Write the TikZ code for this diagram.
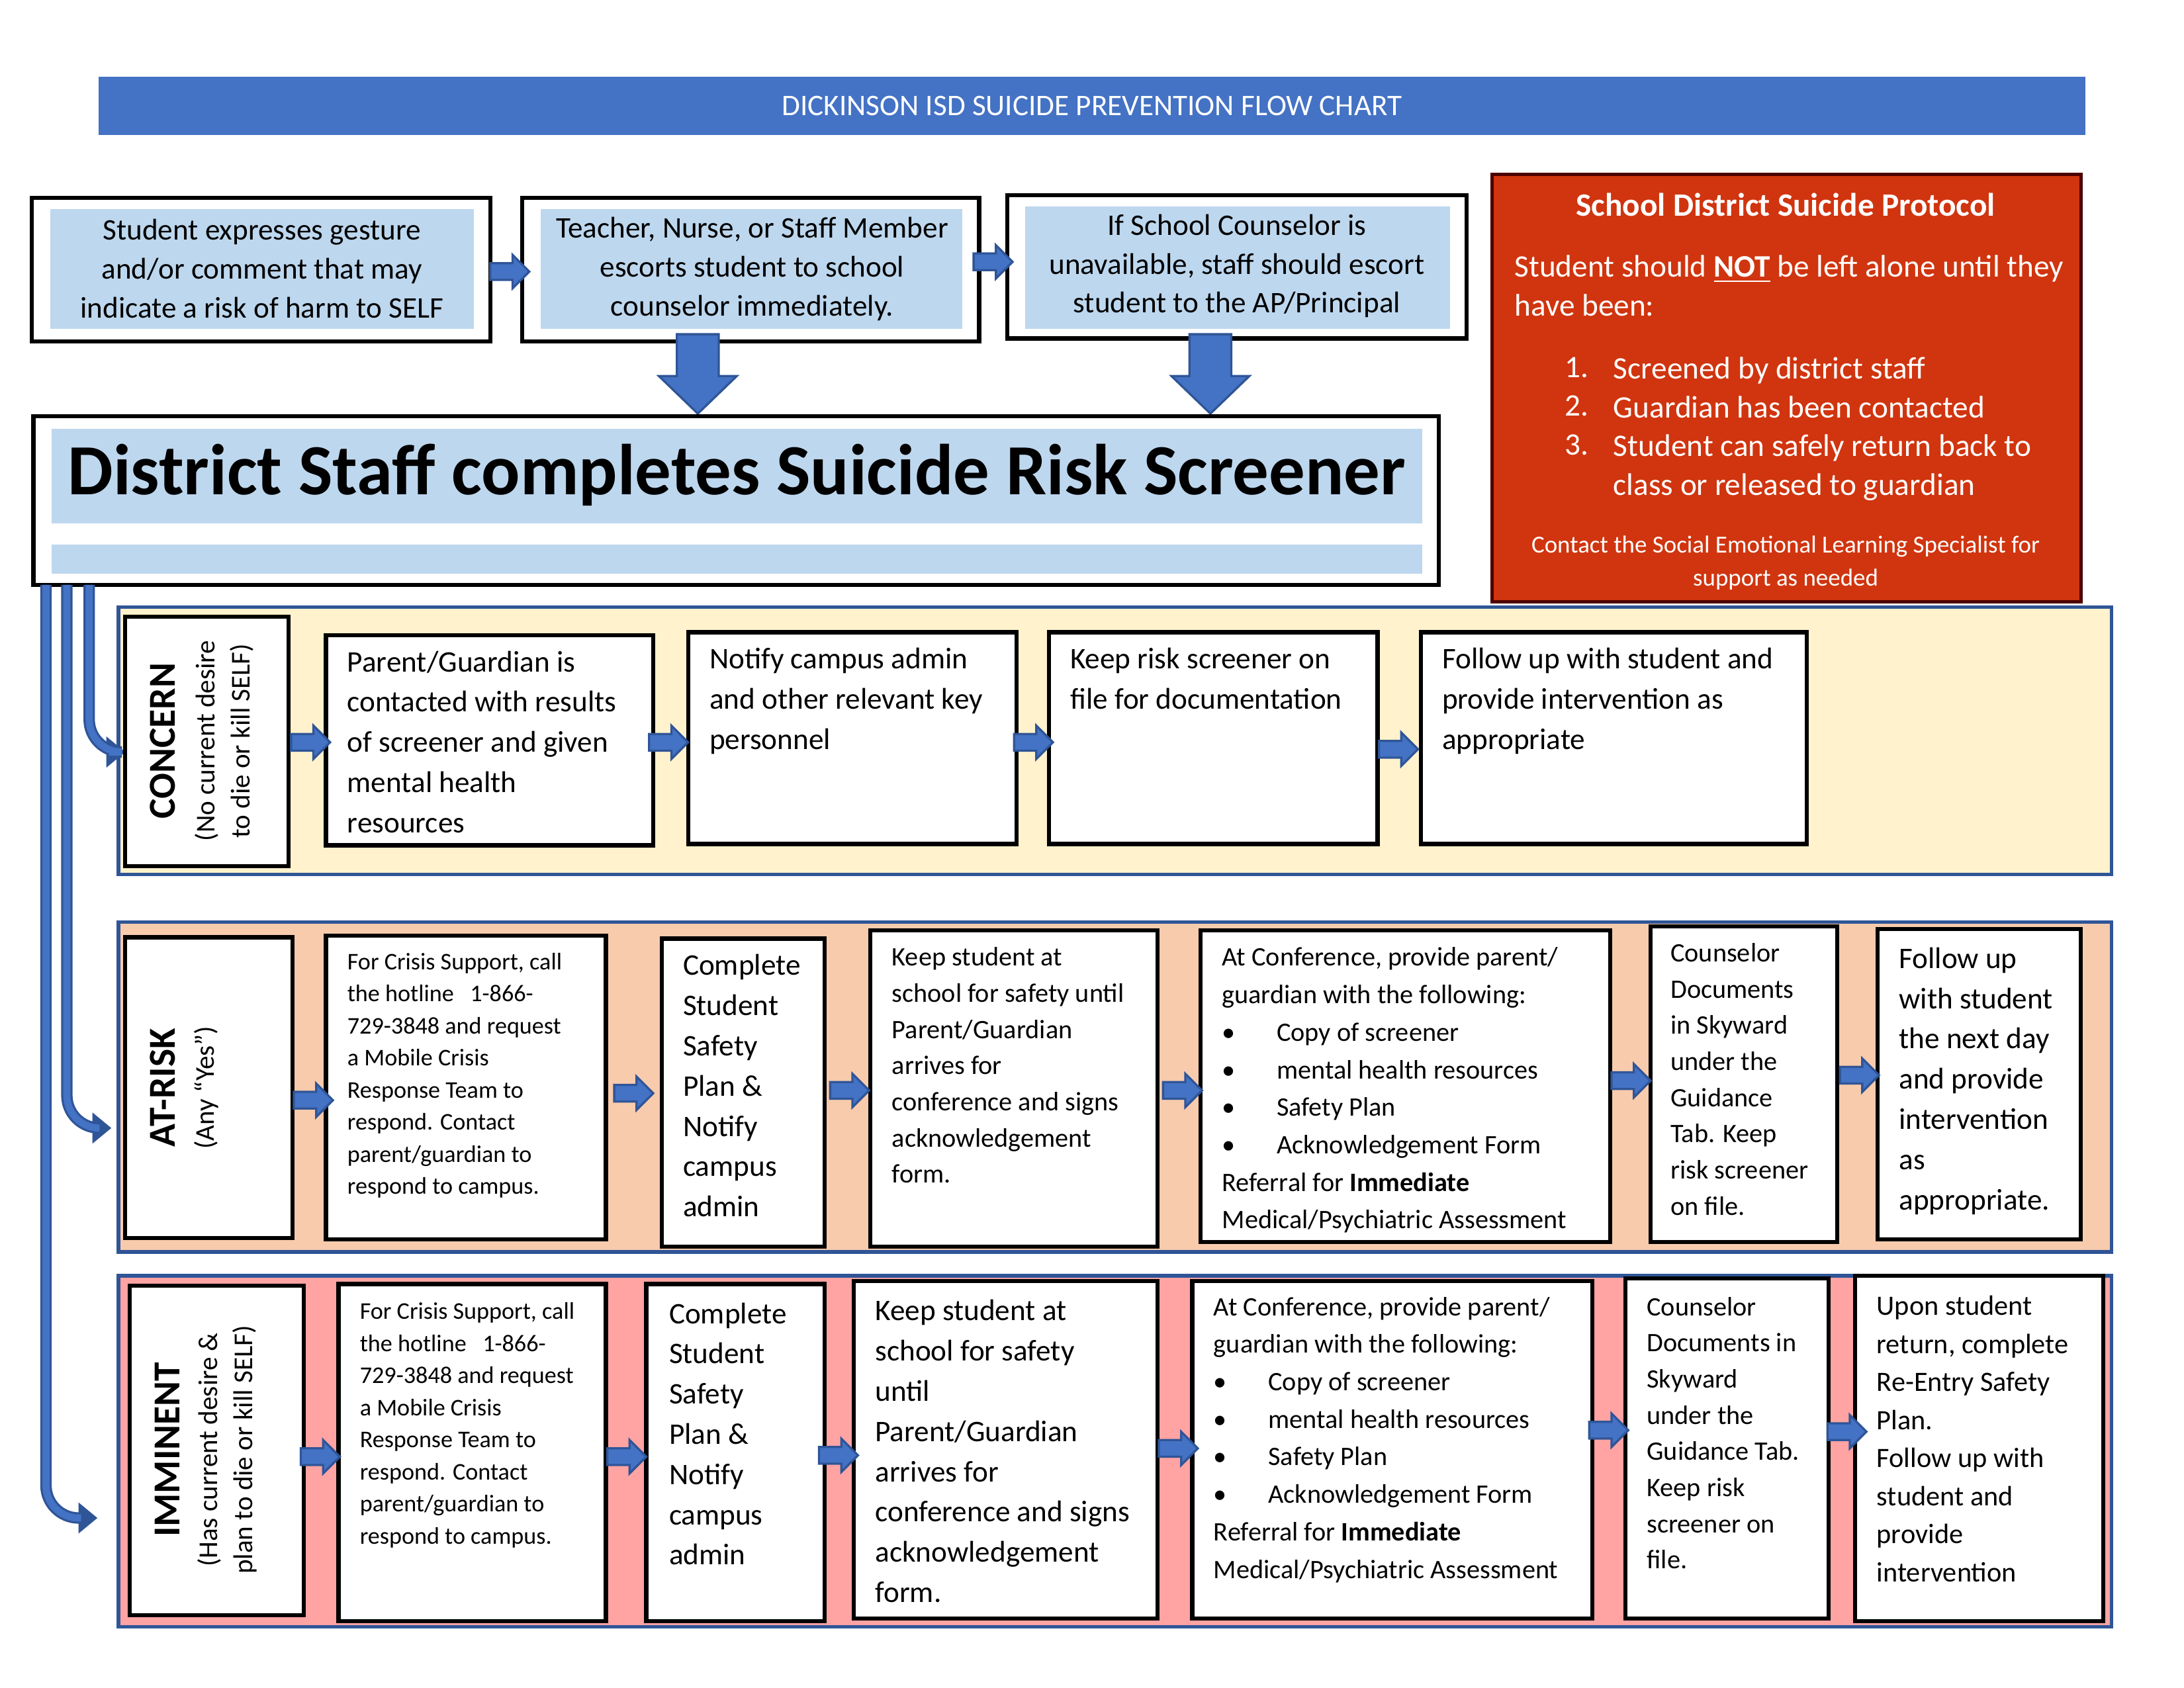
\documentclass[tikz,border=0pt]{standalone}
\usepackage{fontspec}
\setmainfont{Carlito}
\usetikzlibrary{fit,arrows.meta}
\definecolor{hb}{HTML}{4472C4}
\definecolor{hbd}{HTML}{2F5597}
\definecolor{lb}{HTML}{BDD7EE}
\definecolor{cy}{HTML}{FFF2CC}
\definecolor{ar}{HTML}{F8CBAD}
\definecolor{im}{HTML}{FFA3A3}
\definecolor{rd}{HTML}{D0350F}
\newcommand\fs[2]{\fontsize{#1}{#2}\selectfont}
\newcommand\bul{\makebox[2.05em][l]{\textbullet}}
\tikzset{
  bx/.style={draw=black, fill=white, line width=1.5pt, inner sep=0pt},
  tx/.style={anchor=north west, align=left, inner sep=0pt},
  band/.style={draw=hbd, line width=1.3pt},
  blk/.style={fill=hb, draw=hbd, line width=0.8pt},
}
\newcommand\pbox[5]{\coordinate (#1a) at (#2,#3); \coordinate (#1b) at (#4,#5);
  \node[bx, fit=(#1a)(#1b)] (#1) {};}
\newcommand\rarr[3]{\coordinate (#1) at (#2,#3);
  \draw[blk, shift={(#1)}] (0,-6)--(16,-6)--(16,-12)--(28,0)--(16,12)--(16,6)--(0,6)--cycle;}
\newcommand\darr[3]{\coordinate (#1) at (#2,#3);
  \draw[blk, shift={(#1)}] (-15,0)--(15,0)--(15,30)--(28,30)--(0,57)--(-28,30)--(-15,30)--cycle;}
\begin{document}
\begin{tikzpicture}[x=0.018cm,y=-0.018cm]
\useasboundingbox (0,0) rectangle (1568,1212);
\node[fill=hb, minimum width=1426*0.018cm, minimum height=42*0.018cm, inner sep=0, text=white, font=\fs{11}{13}] (title) at (784,76) {DICKINSON ISD SUICIDE PREVENTION FLOW CHART};
\pbox{t1}{23}{142}{352}{245}
\fill[lb] (36,150) rectangle (340,236);
\node[align=center, font=\fs{11}{14.3}] (t1t) at (188,193) {Student expresses gesture\\and/or comment that may\\indicate a risk of harm to SELF};
\pbox{t2}{375}{142}{703}{245}
\fill[lb] (388,150) rectangle (691,236);
\node[align=center, font=\fs{11}{14.3}] (t2t) at (540,193) {Teacher, Nurse, or Staff Member\\escorts student to school\\counselor immediately.};
\pbox{t3}{723}{140}{1053}{243}
\fill[lb] (736,148) rectangle (1041,236);
\node[align=center, font=\fs{11}{14.3}] (t3t) at (888,191) {If School Counselor is\\unavailable, staff should escort\\student to the AP/Principal};
\rarr{a1}{352}{195}
\rarr{a2}{699}{188}
\node[fill=rd, draw=black!70!red, line width=1.2pt, minimum width=423*0.018cm, minimum height=307*0.018cm, inner sep=0] (red) at (1282.5,278.5) {};
\node[text=white, font=\fs{12}{15}\bfseries] (rt) at (1282,147) {School District Suicide Protocol};
\node[tx, text=white, font=\fs{11.5}{14.3}] (r1) at (1087,183) {Student should \textbf{\underline{NOT}} be left alone until they\\have been:};
\node[tx, text=white, font=\fs{11.5}{14.3}] (r2) at (1123,256) {1.\\2.\\3.\\ \ };
\node[tx, text=white, font=\fs{11.5}{14.3}] (r3) at (1158,256) {Screened by district staff\\Guardian has been contacted\\Student can safely return back to\\class or released to guardian};
\node[text=white, align=center, font=\fs{9}{12.2}] (r4) at (1282,404) {Contact the Social Emotional Learning Specialist for\\support as needed};
\darr{d1}{501}{240}
\darr{d2}{869}{240}
\pbox{big}{24}{299}{1033}{420}
\fill[lb] (37,308) rectangle (1021,376);
\fill[lb] (37,391) rectangle (1021,412);
\node[font=\fs{26.5}{30}\bfseries] (bigt) at (529,341) {District Staff completes Suicide Risk Screener};
\draw[band, fill=cy] (85,436) rectangle (1516,628);
\draw[band, fill=ar] (85,662) rectangle (1516,899);
\draw[band, fill=im] (85,916) rectangle (1516,1168);
% connectors
\coordinate (l1s) at (64,420); \coordinate (l1e) at (90,540);
\coordinate (l2s) at (48,420); \coordinate (l2e) at (80,810);
\coordinate (l3s) at (33,420); \coordinate (l3e) at (70,1090);
\foreach \s/\e in {l1s/l1e,l2s/l2e,l3s/l3e}{
  \draw[hbd, line width=4.2pt, rounded corners=12, -{Triangle[length=7pt,width=11pt]}] (\s) |- (\e);
  \draw[hb, line width=2.6pt, rounded corners=12, shorten >=6pt] (\s) |- (\e);
}
% concern
\pbox{c0}{90}{443}{207}{622}
\node[rotate=90, font=\fs{14}{17}\bfseries] (c0a) at (117,532) {CONCERN};
\node[rotate=90, align=center, font=\fs{10}{13}] (c0b) at (161,532) {(No current desire\\to die or kill SELF)};
\pbox{c1}{234}{456}{469}{607}
\node[tx, font=\fs{11}{14.8}] (c1t) at (249,467) {Parent/Guardian is\\contacted with results\\of screener and given\\mental health\\resources};
\pbox{c2}{494}{454}{730}{606}
\node[tx, font=\fs{11}{14.8}] (c2t) at (509,465) {Notify campus admin\\and other relevant key\\personnel};
\pbox{c3}{753}{454}{989}{606}
\node[tx, font=\fs{11}{14.8}] (c3t) at (768,465) {Keep risk screener on\\file for documentation};
\pbox{c4}{1020}{454}{1297}{606}
\node[tx, font=\fs{11}{14.8}] (c4t) at (1035,465) {Follow up with student and\\provide intervention as\\appropriate};
\rarr{ca1}{209}{533}
\rarr{ca2}{466}{533}
\rarr{ca3}{728}{533}
\rarr{ca4}{990}{538}
% at-risk
\pbox{r0}{90}{673}{210}{889}
\node[rotate=90, font=\fs{14}{17}\bfseries] (r0a) at (117,781) {AT-RISK};
\node[rotate=90, font=\fs{10}{13}] (r0b) at (148,781) {(Any ``Yes'')};
\pbox{s1}{234}{672}{435}{890}
\node[tx, font=\fs{8.8}{11.8}] (s1t) at (249,684) {For Crisis Support, call\\the hotline \ \ 1-866-\\729-3848 and request\\a Mobile Crisis\\Response Team to\\respond. Contact\\parent/guardian to\\respond to campus.};
\pbox{s2}{475}{674}{592}{895}
\node[tx, font=\fs{11}{14.8}] (s2t) at (490,685) {Complete\\Student\\Safety\\Plan \&\\Notify\\campus\\admin};
\pbox{s3}{625}{668}{831}{895}
\node[tx, font=\fs{9.8}{13.3}] (s3t) at (640,680) {Keep student at\\school for safety until\\Parent/Guardian\\arrives for\\conference and signs\\acknowledgement\\form.};
\pbox{s4}{862}{668}{1156}{892}
\node[tx, font=\fs{9.8}{13.8}] (s4t) at (877,680) {At Conference, provide parent/\\guardian with the following:\\\bul Copy of screener\\\bul mental health resources\\\bul Safety Plan\\\bul Acknowledgement Form\\Referral for \textbf{Immediate}\\Medical/Psychiatric Assessment};
\pbox{s5}{1185}{665}{1319}{892}
\node[tx, font=\fs{9.8}{13.3}] (s5t) at (1199,677) {Counselor\\Documents\\in Skyward\\under the\\Guidance\\Tab. Keep\\risk screener\\on file.};
\pbox{s6}{1348}{667}{1494}{890}
\node[tx, font=\fs{11}{14.8}] (s6t) at (1363,680) {Follow up\\with student\\the next day\\and provide\\intervention\\as\\appropriate.};
\rarr{sa1}{211}{790}
\rarr{sa2}{441}{785}
\rarr{sa3}{596}{783}
\rarr{sa4}{835}{783}
\rarr{sa5}{1157}{776}
\rarr{sa6}{1321}{772}
% imminent
\pbox{m0}{93}{923}{218}{1160}
\node[rotate=90, font=\fs{14}{17}\bfseries] (m0a) at (120,1041) {IMMINENT};
\node[rotate=90, align=center, font=\fs{10}{13}] (m0b) at (163,1041) {(Has current desire \&\\plan to die or kill SELF)};
\pbox{m1}{243}{922}{435}{1164}
\node[tx, font=\fs{8.8}{11.8}] (m1t) at (258,935) {For Crisis Support, call\\the hotline \ \ 1-866-\\729-3848 and request\\a Mobile Crisis\\Response Team to\\respond. Contact\\parent/guardian to\\respond to campus.};
\pbox{m2}{464}{922}{592}{1164}
\node[tx, font=\fs{11}{14.8}] (m2t) at (480,935) {Complete\\Student\\Safety\\Plan \&\\Notify\\campus\\admin};
\pbox{m3}{613}{920}{831}{1162}
\node[tx, font=\fs{11}{14.8}] (m3t) at (628,933) {Keep student at\\school for safety\\until\\Parent/Guardian\\arrives for\\conference and signs\\acknowledgement\\form.};
\pbox{m4}{856}{920}{1143}{1162}
\node[tx, font=\fs{9.8}{13.8}] (m4t) at (871,931) {At Conference, provide parent/\\guardian with the following:\\\bul Copy of screener\\\bul mental health resources\\\bul Safety Plan\\\bul Acknowledgement Form\\Referral for \textbf{Immediate}\\Medical/Psychiatric Assessment};
\pbox{m5}{1167}{918}{1313}{1162}
\node[tx, font=\fs{9.8}{13.3}] (m5t) at (1182,931) {Counselor\\Documents in\\Skyward\\under the\\Guidance Tab.\\Keep risk\\screener on\\file.};
\pbox{m6}{1332}{916}{1510}{1164}
\node[tx, font=\fs{10.3}{14}] (m6t) at (1347,930) {Upon student\\return, complete\\Re-Entry Safety\\Plan.\\Follow up with\\student and\\provide\\intervention};
\rarr{ma1}{216}{1046}
\rarr{ma2}{436}{1046}
\rarr{ma3}{588}{1045}
\rarr{ma4}{832}{1040}
\rarr{ma5}{1141}{1027}
\rarr{ma6}{1312}{1028}
\end{tikzpicture}
\end{document}
